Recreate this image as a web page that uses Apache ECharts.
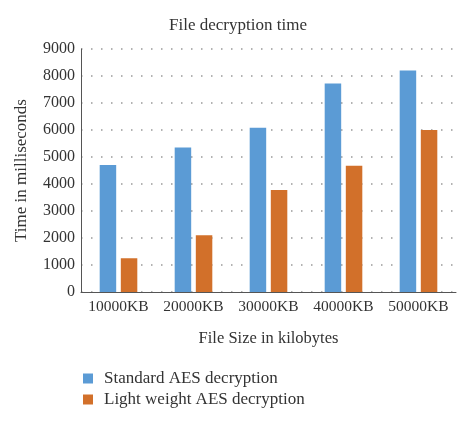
<!DOCTYPE html>
<html>
<head>
    <meta charset="utf-8">
    <title>File decryption time</title>
    <script src="https://cdn.jsdelivr.net/npm/echarts@6/dist/echarts.min.js"></script>
    <style>
        html, body { margin: 0; padding: 0; background: #fff; }
    </style>
</head>
<body>
    <div id="main" style="width: 474px;height:422px;"></div>
    <script type="text/javascript">

    // file sizes
    var categories = ['10000KB', '20000KB', '30000KB', '40000KB', '50000KB'];
    // decryption time (ms)
    var standardAes = [4700, 5350, 6080, 7720, 8200];
    var lightAes = [1250, 2100, 3780, 4680, 6000];
    var yTicks = [0, 1000, 2000, 3000, 4000, 5000, 6000, 7000, 8000, 9000];

    var serif = '"Liberation Serif", "DejaVu Serif", serif';

    var myChart = echarts.init(document.getElementById('main'));

    var option = {
        animation: false,
        color: ['#5b9bd5', '#d2702a'],
        title: {
            text: 'File decryption time',
            left: 233,
            textAlign: 'center',
            top: 12,
            textStyle: {
                fontFamily: serif,
                fontSize: 17,
                fontWeight: 'normal',
                color: '#333'
            }
        },
        legend: {
            orient: 'vertical',
            left: 78,
            top: 365,
            itemWidth: 10,
            itemHeight: 10,
            itemGap: 4,
            icon: 'rect',
            textStyle: {
                fontFamily: serif,
                fontSize: 17,
                color: '#333',
                padding: [0, 0, 0, 6]
            },
            data: ['Standard AES decryption', 'Light weight AES decryption']
        },
        grid: {
            left: 81,
            right: 18,
            top: 49,
            bottom: 130
        },
        xAxis: {
            type: 'category',
            data: categories,
            name: 'File Size in kilobytes',
            nameLocation: 'middle',
            nameGap: 38,
            nameTextStyle: {
                fontFamily: serif,
                fontSize: 16.5,
                color: '#333'
            },
            axisLine: { lineStyle: { color: '#555', width: 1 } },
            axisTick: { show: false },
            axisLabel: {
                fontFamily: serif,
                fontSize: 15.5,
                color: '#333',
                margin: 7,
                interval: 0
            }
        },
        yAxis: {
            type: 'value',
            min: yTicks[0],
            max: yTicks[yTicks.length - 1],
            interval: 1000,
            name: 'Time in milliseconds',
            nameLocation: 'middle',
            nameGap: 51,
            nameTextStyle: {
                fontFamily: serif,
                fontSize: 17,
                color: '#333'
            },
            axisLine: { show: true, lineStyle: { color: '#555', width: 1 } },
            axisTick: { show: false },
            axisLabel: {
                fontFamily: serif,
                fontSize: 16,
                color: '#333',
                margin: 6,
                formatter: function (v) { return String(v); }
            },
            splitLine: {
                lineStyle: { color: '#999', type: [1.5, 8.5], width: 1.5 }
            }
        },
        series: [
            {
                name: 'Standard AES decryption',
                type: 'bar',
                data: standardAes,
                barWidth: '22%',
                barGap: '28%'
            },
            {
                name: 'Light weight AES decryption',
                type: 'bar',
                data: lightAes,
                barWidth: '22%'
            }
        ]
    };

    myChart.setOption(option);
    </script>
</body>
</html>
